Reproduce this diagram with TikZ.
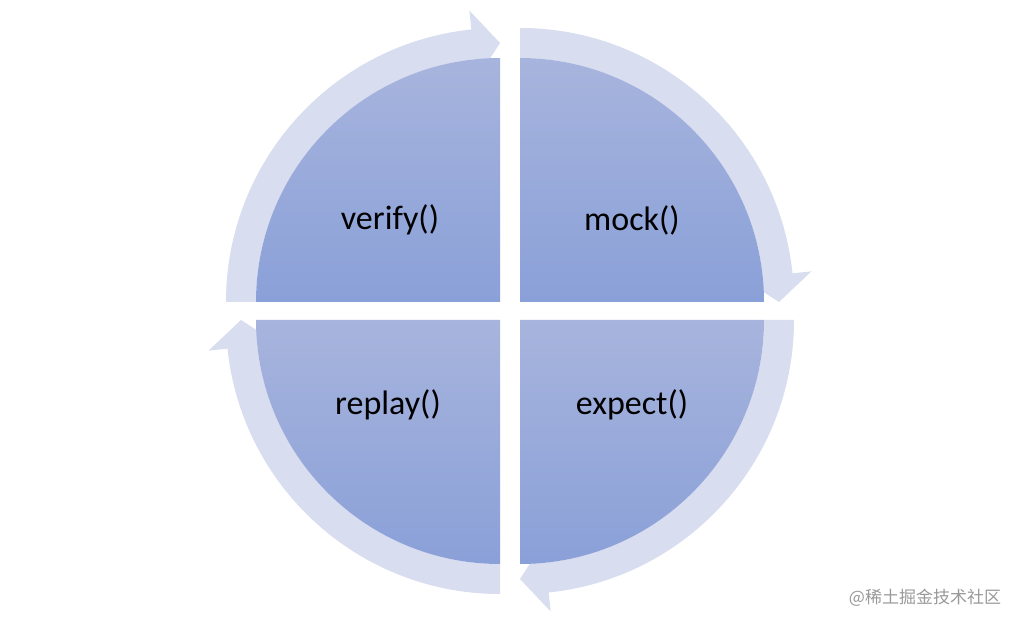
\documentclass[tikz,border=0pt]{standalone}
\usepackage{fontspec}
\setmainfont{Carlito}
\newfontfamily\cjk{Noto Sans CJK SC}
\definecolor{band}{HTML}{D8DDEF}
\definecolor{secTop}{HTML}{A7B4DD}
\definecolor{secBot}{HTML}{8AA0D8}
\tikzset{
  lbl/.style={font=\fontsize{34}{40}\selectfont, text=black},
  bandfill/.style={fill=band, draw=none},
}
\newcommand{\cyclearrow}[2]{% corner, start angle
  \fill[band, shift={#1}, rotate=#2]
    (180:244pt) arc[start angle=180, end angle=96, radius=244pt]
    -- (96:224pt) -- (90:259pt) -- (96:293pt) -- (96:274pt)
    arc[start angle=96, end angle=180, radius=274pt] -- cycle;
}
\newcommand{\sector}[2]{%
  \shade[top color=secTop, bottom color=secBot, shift={#1}]
    (0,0) -- (#2:244pt) arc[start angle=#2, end angle=#2-90, radius=244pt] -- cycle;
}
\begin{document}
\begin{tikzpicture}[x=1pt,y=1pt]
\useasboundingbox[fill=white] (0,0) rectangle (1024,627);
\coordinate (tl) at (500,325);
\coordinate (tr) at (520,325);
\coordinate (bl) at (500,307);
\coordinate (br) at (520,307);
\cyclearrow{(tl)}{0}
\cyclearrow{(tr)}{-90}
\cyclearrow{(br)}{-180}
\cyclearrow{(bl)}{-270}
\sector{(tl)}{180}
\sector{(tr)}{90}
\sector{(br)}{0}
\sector{(bl)}{-90}
\node[lbl] (v) at (390,407) {verify()};
\node[lbl] (m) at (632,407) {mock()};
\node[lbl] (r) at (388,222) {replay()};
\node[lbl] (e) at (632,222) {expect()};
\node[text=gray!80, font=\cjk\fontsize{17}{20}\selectfont] (w) at (925,29) {@稀土掘金技术社区};
\end{tikzpicture}
\end{document}
